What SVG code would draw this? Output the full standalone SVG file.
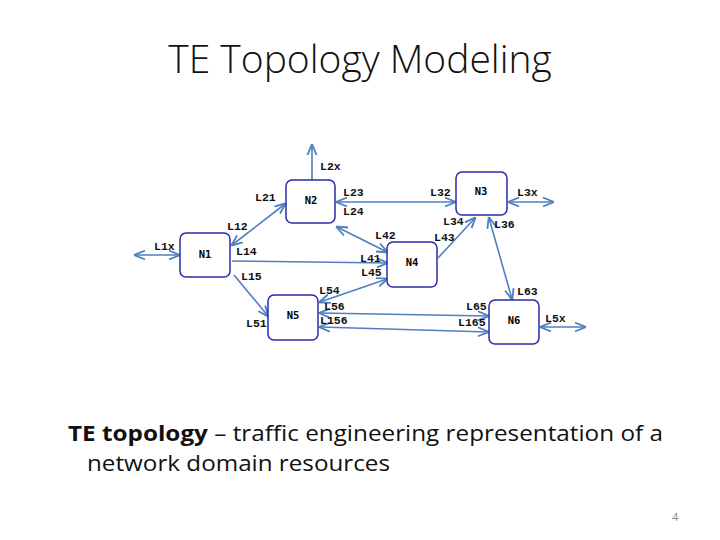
<svg xmlns="http://www.w3.org/2000/svg" width="720" height="540" viewBox="0 0 720 540">
<defs>
<marker id="a" viewBox="0 0 10 10" refX="9" refY="5" markerWidth="7" markerHeight="7" orient="auto-start-reverse"><path d="M0,1 L10,5 L0,9" fill="none" stroke="#4f7fbf" stroke-width="1.6"/></marker>
</defs>
<style>
.n rect{fill:#fff;stroke:#2a2aa8;stroke-width:1.5}
.n text{font-family:"DejaVu Sans Mono",monospace;font-weight:bold;font-size:10.5px;text-anchor:middle}
.c line{stroke:#4f7fbf;stroke-width:1.6}
.d{marker-start:url(#a);marker-end:url(#a)}
.e{marker-end:url(#a)}
.l{font-family:"Liberation Mono",monospace;font-weight:bold;font-size:11.5px;fill:#111}
</style>
<rect width="720" height="540" fill="#fff"/>
<text x="360" y="73" font-family="Open Sans, sans-serif" font-weight="300" font-size="39" text-anchor="middle" fill="#111">TE Topology Modeling</text>
<g class="c">
<line class="e" x1="312" y1="180" x2="312" y2="145"/>
<line class="d" x1="135" y1="255" x2="179" y2="255"/>
<line class="d" x1="509" y1="202" x2="553" y2="202"/>
<line class="d" x1="541" y1="327" x2="585" y2="327"/>
<line class="d" x1="232" y1="245" x2="285" y2="204"/>
<line class="d" x1="337" y1="202" x2="455" y2="202"/>
<line class="d" x1="337" y1="227" x2="387" y2="252"/>
<line class="e" x1="232" y1="261" x2="387" y2="263"/>
<line class="e" x1="438" y1="258" x2="475" y2="218"/>
<line class="e" x1="234" y1="275" x2="268" y2="316"/>
<line class="d" x1="387" y1="279" x2="320" y2="302"/>
<line class="d" x1="489" y1="218" x2="512" y2="299"/>
<line class="d" x1="320" y1="313" x2="488" y2="316"/>
<line class="d" x1="320" y1="327" x2="488" y2="332"/>
</g>
<g id="N1" class="n"><rect x="180" y="233" width="50" height="44" rx="6"/><text x="205" y="258">N1</text></g>
<g id="N2" class="n"><rect x="286" y="180" width="49" height="43" rx="6"/><text x="311" y="204">N2</text></g>
<g id="N3" class="n"><rect x="456" y="172" width="51" height="43" rx="6"/><text x="481" y="195">N3</text></g>
<g id="N4" class="n"><rect x="387" y="242" width="50" height="45" rx="6"/><text x="412" y="266">N4</text></g>
<g id="N5" class="n"><rect x="268" y="295" width="50" height="45" rx="6"/><text x="293" y="319">N5</text></g>
<g id="N6" class="n"><rect x="489" y="300" width="50" height="44" rx="6"/><text x="514" y="324">N6</text></g>
<g class="l">
<text x="320" y="170">L2x</text>
<text x="255" y="201">L21</text>
<text x="343" y="196">L23</text>
<text x="430" y="196">L32</text>
<text x="517" y="196">L3x</text>
<text x="343" y="215">L24</text>
<text x="227" y="230">L12</text>
<text x="494" y="228">L36</text>
<text x="443" y="225">L34</text>
<text x="434" y="241">L43</text>
<text x="375" y="239">L42</text>
<text x="154" y="250">L1x</text>
<text x="236" y="255">L14</text>
<text x="360" y="262">L41</text>
<text x="361" y="276">L45</text>
<text x="241" y="280">L15</text>
<text x="319" y="294">L54</text>
<text x="517" y="295">L63</text>
<text x="324" y="310">L56</text>
<text x="466" y="310">L65</text>
<text x="320" y="324">L156</text>
<text x="458" y="326">L165</text>
<text x="246" y="327">L51</text>
<text x="545" y="322">L5x</text>
</g>
<text x="68" y="441" font-family="Open Sans, sans-serif" font-size="22" fill="#111" textLength="595" lengthAdjust="spacingAndGlyphs"><tspan font-weight="bold">TE topology</tspan> – traffic engineering representation of a</text>
<text x="87" y="471" font-family="Open Sans, sans-serif" font-size="22" fill="#111" textLength="303" lengthAdjust="spacingAndGlyphs">network domain resources</text>
<text x="672" y="521" font-family="Open Sans, sans-serif" font-size="11" fill="#888">4</text>
</svg>
